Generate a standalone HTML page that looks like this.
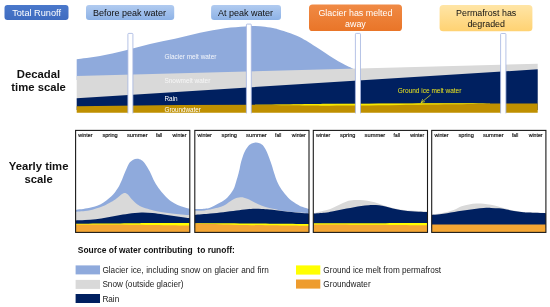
<!DOCTYPE html>
<html><head><meta charset="utf-8"><title>Runoff sources</title>
<style>
html,body{margin:0;padding:0;background:#fff;}
body{width:550px;height:307px;overflow:hidden;}
svg{display:block;font-family:"Liberation Sans",Arial,sans-serif;}
</style></head><body>
<svg width="550" height="307" viewBox="0 0 550 307">
<rect width="550" height="307" fill="#fff"/>
<path d="M76.7,59.3 C80.6,58.8 92.0,57.6 100.0,56.1 C108.0,54.6 116.7,52.5 125.0,50.5 C133.3,48.5 141.7,46.1 150.0,44.1 C158.3,42.1 166.7,40.7 175.0,38.8 C183.3,36.9 191.7,34.6 200.0,32.8 C208.3,31.0 217.5,29.3 225.0,28.2 C232.5,27.1 240.0,26.8 245.0,26.4 C250.0,26.0 251.7,26.0 255.0,26.1 C258.3,26.2 261.7,26.4 265.0,26.8 C268.3,27.2 272.5,28.1 275.0,28.6 C277.5,29.1 277.8,29.4 280.0,30.0 C282.2,30.6 285.0,31.5 288.0,32.5 C291.0,33.5 294.9,34.9 297.9,36.2 C300.9,37.6 303.0,38.8 306.0,40.6 C309.0,42.4 312.6,44.8 315.8,46.8 C319.0,48.8 322.0,50.8 325.0,52.8 C328.0,54.8 330.8,56.7 333.8,58.5 C336.8,60.3 339.7,62.0 343.0,63.8 C346.3,65.5 351.8,68.1 353.5,69.0 L353.5,80.0 L76.7,80.0 Z" fill="#8FAADC"/>
<polygon points="76.7,76 537.7,63.8 537.7,100 76.7,100" fill="#D9D9D9"/>
<polygon points="76.7,98.2 537.7,69.3 537.7,110 76.7,110" fill="#002060"/>
<polygon points="76.7,106.2 180.0,105.0 290.0,104.5 330.0,103.9 440.0,103.4 537.7,103.4 537.7,112.8 76.7,112.8" fill="#BF9000"/>
<path d="M255.0,104.6 C260.8,104.5 280.5,104.5 290.0,104.4 C299.5,104.3 305.3,104.2 312.0,104.1 C318.7,104.0 322.0,103.9 330.0,103.8 C338.0,103.7 348.3,103.7 360.0,103.7 C371.7,103.6 385.0,103.5 400.0,103.5 C415.0,103.4 435.0,103.3 450.0,103.3 C465.0,103.3 483.3,103.3 490.0,103.3 L490.0,103.4 C483.3,103.6 465.0,104.0 450.0,104.3 C435.0,104.6 415.0,104.7 400.0,104.9 C385.0,105.1 371.7,105.4 360.0,105.6 C348.3,105.7 338.0,105.7 330.0,105.7 C322.0,105.7 318.7,105.6 312.0,105.5 C305.3,105.4 299.5,105.3 290.0,105.2 C280.5,105.1 260.8,104.7 255.0,104.7 Z" fill="#F7EA00"/>
<rect x="127.9" y="33.4" width="5.0" height="80.0" fill="#fff"/>
<path d="M127.9,113.4 V34.2 q0,-0.8 0.8,-0.8 h3.4 q0.8,0 0.8,0.8 V113.4" fill="none" stroke="#A3B4E0" stroke-width="0.8"/>
<rect x="246.4" y="24.1" width="4.9" height="89.3" fill="#fff"/>
<path d="M246.4,113.4 V24.9 q0,-0.8 0.8,-0.8 h3.3 q0.8,0 0.8,0.8 V113.4" fill="none" stroke="#A3B4E0" stroke-width="0.8"/>
<rect x="355.4" y="33.4" width="5.1" height="80.0" fill="#fff"/>
<path d="M355.4,113.4 V34.2 q0,-0.8 0.8,-0.8 h3.5 q0.8,0 0.8,0.8 V113.4" fill="none" stroke="#A3B4E0" stroke-width="0.8"/>
<rect x="500.6" y="33.5" width="5.3" height="79.9" fill="#fff"/>
<path d="M500.6,113.4 V34.3 q0,-0.8 0.8,-0.8 h3.7 q0.8,0 0.8,0.8 V113.4" fill="none" stroke="#A3B4E0" stroke-width="0.8"/>
<defs>
<linearGradient id="gb" x1="0" y1="0" x2="0" y2="1"><stop offset="0" stop-color="#B1CBF0"/><stop offset="1" stop-color="#8DB2E6"/></linearGradient>
<linearGradient id="go" x1="0" y1="0" x2="0" y2="1"><stop offset="0" stop-color="#F08A45"/><stop offset="1" stop-color="#E97528"/></linearGradient>
<linearGradient id="gy" x1="0" y1="0" x2="0" y2="1"><stop offset="0" stop-color="#FFE5A6"/><stop offset="1" stop-color="#FFD272"/></linearGradient>
<linearGradient id="gt" x1="0" y1="0" x2="0" y2="1"><stop offset="0" stop-color="#4A78CB"/><stop offset="1" stop-color="#3F6CC0"/></linearGradient>
</defs>
<rect x="4.5" y="5.0" width="64.0" height="15.0" rx="3.0" fill="url(#gt)"/>
<rect x="86.0" y="5.0" width="88.2" height="15.0" rx="3.0" fill="url(#gb)"/>
<rect x="211.1" y="5.0" width="69.9" height="15.0" rx="3.0" fill="url(#gb)"/>
<rect x="309.0" y="4.5" width="93.0" height="26.5" rx="3.6" fill="url(#go)"/>
<rect x="439.6" y="5.0" width="92.8" height="26.3" rx="3.6" fill="url(#gy)"/>
<text x="36.6" y="16.1" font-size="9.20" fill="#fff" text-anchor="middle" font-weight="normal">Total Runoff</text>
<text x="129.6" y="16.0" font-size="9.00" fill="#111" text-anchor="middle" font-weight="normal">Before peak water</text>
<text x="245.4" y="16.0" font-size="9.00" fill="#111" text-anchor="middle" font-weight="normal">At peak water</text>
<text x="355.4" y="16.2" font-size="8.90" fill="#fff" text-anchor="middle" font-weight="normal">Glacier has melted</text>
<text x="355.4" y="27.2" font-size="8.90" fill="#fff" text-anchor="middle" font-weight="normal">away</text>
<text x="486.2" y="16.2" font-size="8.90" fill="#111" text-anchor="middle" font-weight="normal">Permafrost has</text>
<text x="486.2" y="27.2" font-size="8.90" fill="#111" text-anchor="middle" font-weight="normal">degraded</text>
<text x="38.5" y="78.0" font-size="11.30" fill="#111" text-anchor="middle" font-weight="bold">Decadal</text>
<text x="38.6" y="91.2" font-size="11.30" fill="#111" text-anchor="middle" font-weight="bold">time scale</text>
<text x="38.6" y="169.8" font-size="11.30" fill="#111" text-anchor="middle" font-weight="bold">Yearly time</text>
<text x="38.6" y="183.4" font-size="11.30" fill="#111" text-anchor="middle" font-weight="bold">scale</text>
<text x="164.5" y="58.9" font-size="6.45" fill="#F4F6FB" text-anchor="start" font-weight="normal">Glacier melt water</text>
<text x="164.5" y="83.4" font-size="6.45" fill="#F7F7F7" text-anchor="start" font-weight="normal">Snowmelt water</text>
<text x="164.5" y="100.5" font-size="6.40" fill="#fff" text-anchor="start" font-weight="normal">Rain</text>
<text x="164.5" y="111.5" font-size="6.30" fill="#fff" text-anchor="start" font-weight="normal">Groundwater</text>
<text x="397.8" y="92.7" font-size="6.50" fill="#ECE61C" text-anchor="start" font-weight="normal">Ground ice melt water</text>
<path d="M430.5,95 L421.6,102.3 M421.3,102.6 l3.3,-0.9 M421.3,102.6 l1.2,-3.1" stroke="#ECE61C" stroke-width="0.7" fill="none" stroke-linecap="round"/>
<g>
<path d="M75.6,209.9 C77.8,209.6 84.6,209.0 88.8,208.1 C93.0,207.2 96.9,206.3 100.7,204.3 C104.5,202.3 108.5,198.9 111.4,196.2 C114.3,193.5 116.1,190.7 117.9,187.9 C119.7,185.2 120.8,182.4 122.0,179.7 C123.2,177.0 124.1,174.3 125.3,171.6 C126.5,168.9 127.8,165.5 129.0,163.6 C130.2,161.7 131.4,160.8 132.8,160.0 C134.2,159.2 135.7,158.8 137.2,158.8 C138.7,158.8 140.3,159.4 141.6,160.2 C142.9,161.0 143.5,161.5 144.9,163.4 C146.3,165.3 148.4,168.7 149.8,171.4 C151.2,174.1 152.1,176.9 153.5,179.7 C154.9,182.4 156.7,185.3 158.5,187.9 C160.3,190.5 162.4,193.1 164.5,195.3 C166.6,197.5 168.8,199.7 171.0,201.3 C173.2,202.9 175.4,204.0 177.6,205.0 C179.8,206.0 182.1,206.7 184.1,207.3 C186.1,208.0 188.9,208.6 189.8,208.9 L189.8,222.0 L75.6,222.0 Z" fill="#8FAADC"/>
<path d="M75.6,211.7 C77.8,211.5 84.3,211.4 88.8,210.5 C93.3,209.6 99.0,207.6 102.7,206.2 C106.4,204.8 108.7,203.3 111.0,202.0 C113.3,200.7 114.9,199.6 116.5,198.4 C118.1,197.2 119.4,195.8 120.7,194.9 C122.0,194.0 123.2,193.0 124.3,192.9 C125.4,192.8 126.3,193.2 127.6,194.3 C128.8,195.4 130.4,197.8 131.8,199.3 C133.2,200.8 134.3,201.9 135.9,203.2 C137.5,204.4 139.1,205.8 141.4,206.8 C143.7,207.9 147.0,208.7 149.8,209.5 C152.6,210.3 154.3,210.8 158.0,211.5 C161.7,212.2 166.6,213.0 171.9,213.6 C177.2,214.2 186.8,215.0 189.8,215.3 L189.8,222.0 L75.6,222.0 Z" fill="#D9D9D9"/>
<path d="M75.6,220.5 C77.1,220.4 81.5,220.3 84.9,220.1 C88.3,219.9 92.2,219.6 95.8,219.2 C99.4,218.8 103.1,218.0 106.7,217.4 C110.3,216.8 114.0,216.1 117.6,215.5 C121.2,214.9 124.5,214.2 128.5,213.7 C132.5,213.2 137.4,212.7 141.4,212.6 C145.4,212.5 148.8,212.8 152.5,213.1 C156.2,213.4 159.4,214.0 163.6,214.6 C167.8,215.2 173.0,215.9 177.4,216.5 C181.8,217.1 187.7,217.9 189.8,218.2 L189.8,228.0 L75.6,228.0 Z" fill="#002060"/>
<path d="M75.6,223.7 C80.5,223.7 95.3,223.6 105.0,223.5 C114.7,223.4 126.5,223.3 134.0,223.2 C141.5,223.1 140.7,222.9 150.0,222.9 C159.3,222.9 183.2,223.1 189.8,223.1 L189.8,228.0 L75.6,228.0 Z" fill="#FFFF00"/>
<path d="M75.6,224.6 C84.7,224.6 111.0,224.5 130.0,224.7 C149.0,224.8 179.8,225.4 189.8,225.5 L189.8,232.4 L75.6,232.4 Z" fill="#F4A634"/>
<rect x="75.6" y="130.4" width="114.2" height="102.0" fill="none" stroke="#1a1a1a" stroke-width="1.1"/>
<text x="78.3" y="137.4" font-size="6.20" fill="#111" text-anchor="start" font-weight="normal" textLength="14.2" lengthAdjust="spacingAndGlyphs" stroke="#111" stroke-width="0.18">winter</text>
<text x="102.4" y="137.4" font-size="6.20" fill="#111" text-anchor="start" font-weight="normal" textLength="15.3" lengthAdjust="spacingAndGlyphs" stroke="#111" stroke-width="0.18">spring</text>
<text x="126.9" y="137.4" font-size="6.20" fill="#111" text-anchor="start" font-weight="normal" textLength="20.7" lengthAdjust="spacingAndGlyphs" stroke="#111" stroke-width="0.18">summer</text>
<text x="155.9" y="137.4" font-size="6.20" fill="#111" text-anchor="start" font-weight="normal" textLength="6.3" lengthAdjust="spacingAndGlyphs" stroke="#111" stroke-width="0.18">fall</text>
<text x="172.6" y="137.4" font-size="6.20" fill="#111" text-anchor="start" font-weight="normal" textLength="13.9" lengthAdjust="spacingAndGlyphs" stroke="#111" stroke-width="0.18">winter</text>
</g>
<g>
<path d="M194.8,209.1 C196.5,209.0 202.2,208.9 204.7,208.7 C207.2,208.5 207.5,208.8 210.0,207.8 C212.5,206.8 216.9,204.5 219.8,202.8 C222.7,201.1 224.9,199.9 227.2,197.7 C229.5,195.5 231.9,192.2 233.4,189.5 C234.9,186.8 235.3,184.1 236.2,181.4 C237.1,178.7 238.0,175.6 238.6,173.3 C239.2,171.0 239.5,169.6 239.9,167.6 C240.3,165.6 240.6,163.7 241.2,161.6 C241.8,159.5 242.6,157.0 243.3,155.0 C244.1,153.0 244.7,151.5 245.7,149.8 C246.7,148.2 248.1,146.2 249.2,145.1 C250.3,144.0 251.4,143.6 252.5,143.2 C253.6,142.8 254.8,142.5 256.0,142.5 C257.2,142.5 258.4,142.8 259.5,143.2 C260.6,143.6 261.6,144.0 262.6,145.1 C263.7,146.2 264.9,148.2 265.8,149.8 C266.7,151.5 267.3,153.0 268.1,155.0 C268.9,157.0 269.8,159.5 270.5,161.6 C271.2,163.7 271.9,165.6 272.5,167.6 C273.1,169.6 273.4,171.0 274.2,173.3 C275.0,175.6 275.9,178.7 277.1,181.4 C278.3,184.1 279.6,186.8 281.5,189.5 C283.4,192.2 286.1,195.5 288.2,197.7 C290.3,199.9 292.3,201.2 294.3,202.6 C296.3,204.0 297.6,204.8 300.0,205.9 C302.4,207.0 307.5,208.4 309.0,208.9 L309.0,222.0 L194.8,222.0 Z" fill="#8FAADC"/>
<path d="M194.8,210.8 C196.5,210.7 200.6,211.0 204.7,210.4 C208.8,209.8 215.7,208.4 219.3,207.3 C223.0,206.2 224.2,205.3 226.6,203.9 C229.0,202.5 231.7,200.2 234.0,199.1 C236.3,198.0 238.3,197.4 240.5,197.3 C242.7,197.2 244.9,197.9 247.3,198.8 C249.7,199.7 252.2,201.3 254.7,202.5 C257.1,203.7 259.6,204.9 262.0,205.8 C264.4,206.7 266.9,207.3 269.3,207.9 C271.7,208.5 274.2,209.0 276.6,209.5 C279.1,210.0 280.8,210.6 284.0,211.0 C287.2,211.4 291.8,211.9 296.0,212.2 C300.2,212.5 306.8,212.9 309.0,213.0 L309.0,222.0 L194.8,222.0 Z" fill="#D9D9D9"/>
<path d="M194.8,214.9 C197.4,214.7 205.6,214.1 210.3,213.6 C215.1,213.1 219.0,212.7 223.3,212.2 C227.7,211.7 232.5,211.0 236.4,210.5 C240.3,210.0 243.9,209.5 247.0,209.2 C250.1,208.9 252.2,208.7 254.7,208.7 C257.2,208.7 259.6,208.8 262.0,209.0 C264.4,209.2 265.6,209.2 269.3,209.6 C273.0,210.0 279.1,210.8 284.0,211.3 C288.9,211.8 294.4,212.4 298.6,212.8 C302.8,213.2 307.3,213.4 309.0,213.5 L309.0,228.0 L194.8,228.0 Z" fill="#002060"/>
<path d="M194.8,223.5 C202.3,223.5 221.0,223.3 240.0,223.4 C259.0,223.5 297.5,223.9 309.0,224.0 L309.0,228.0 L194.8,228.0 Z" fill="#FFFF00"/>
<path d="M194.8,223.6 C196.5,223.6 197.5,223.6 205.0,223.8 C212.5,224.0 222.7,224.6 240.0,224.9 C257.3,225.2 297.5,225.7 309.0,225.9 L309.0,232.4 L194.8,232.4 Z" fill="#F4A634"/>
<rect x="194.8" y="130.4" width="114.2" height="102.0" fill="none" stroke="#1a1a1a" stroke-width="1.1"/>
<text x="197.5" y="137.4" font-size="6.20" fill="#111" text-anchor="start" font-weight="normal" textLength="14.2" lengthAdjust="spacingAndGlyphs" stroke="#111" stroke-width="0.18">winter</text>
<text x="221.6" y="137.4" font-size="6.20" fill="#111" text-anchor="start" font-weight="normal" textLength="15.3" lengthAdjust="spacingAndGlyphs" stroke="#111" stroke-width="0.18">spring</text>
<text x="246.1" y="137.4" font-size="6.20" fill="#111" text-anchor="start" font-weight="normal" textLength="20.7" lengthAdjust="spacingAndGlyphs" stroke="#111" stroke-width="0.18">summer</text>
<text x="275.1" y="137.4" font-size="6.20" fill="#111" text-anchor="start" font-weight="normal" textLength="6.3" lengthAdjust="spacingAndGlyphs" stroke="#111" stroke-width="0.18">fall</text>
<text x="291.8" y="137.4" font-size="6.20" fill="#111" text-anchor="start" font-weight="normal" textLength="13.9" lengthAdjust="spacingAndGlyphs" stroke="#111" stroke-width="0.18">winter</text>
</g>
<g>
<path d="M313.3,213.2 C315.2,212.8 321.6,211.3 324.7,210.5 C327.8,209.7 329.6,209.3 332.0,208.3 C334.4,207.3 336.9,205.8 339.3,204.7 C341.7,203.5 344.2,202.2 346.6,201.4 C349.1,200.6 351.8,200.2 354.0,200.0 C356.2,199.8 357.8,199.9 360.0,200.0 C362.2,200.1 364.9,200.3 367.3,200.7 C369.8,201.1 372.2,201.5 374.7,202.2 C377.1,202.9 379.6,203.9 382.0,204.7 C384.4,205.5 386.9,206.2 389.3,206.9 C391.7,207.6 394.2,208.3 396.6,208.8 C399.1,209.3 401.6,209.6 404.0,209.9 C406.4,210.2 408.9,210.4 411.3,210.6 C413.7,210.8 415.9,210.9 418.6,211.1 C421.3,211.2 426.0,211.4 427.5,211.5 L427.5,222.0 L313.3,222.0 Z" fill="#D9D9D9"/>
<path d="M313.3,213.5 C315.2,213.4 321.6,213.0 324.7,212.7 C327.8,212.4 329.6,211.9 332.0,211.5 C334.4,211.1 336.9,210.5 339.3,210.0 C341.7,209.5 344.2,209.1 346.6,208.6 C349.1,208.1 351.6,207.6 354.0,207.2 C356.4,206.8 358.9,206.3 361.3,206.0 C363.7,205.7 366.2,205.3 368.6,205.2 C371.0,205.0 373.7,205.0 375.9,205.1 C378.1,205.2 379.8,205.4 382.0,205.8 C384.2,206.2 386.9,206.9 389.3,207.5 C391.7,208.1 394.2,208.8 396.6,209.3 C399.1,209.8 401.6,210.2 404.0,210.5 C406.4,210.8 408.9,211.0 411.3,211.2 C413.7,211.4 415.9,211.6 418.6,211.7 C421.3,211.8 426.0,211.9 427.5,212.0 L427.5,228.0 L313.3,228.0 Z" fill="#002060"/>
<path d="M313.3,223.3 C322.8,223.3 351.0,223.2 370.0,223.2 C389.0,223.1 417.9,223.0 427.5,223.0 L427.5,228.0 L313.3,228.0 Z" fill="#FFFF00"/>
<path d="M313.3,224.4 C322.8,224.4 351.0,224.5 370.0,224.7 C389.0,224.8 417.9,225.2 427.5,225.3 L427.5,232.4 L313.3,232.4 Z" fill="#F4A634"/>
<rect x="313.3" y="130.4" width="114.2" height="102.0" fill="none" stroke="#1a1a1a" stroke-width="1.1"/>
<text x="316.0" y="137.4" font-size="6.20" fill="#111" text-anchor="start" font-weight="normal" textLength="14.2" lengthAdjust="spacingAndGlyphs" stroke="#111" stroke-width="0.18">winter</text>
<text x="340.1" y="137.4" font-size="6.20" fill="#111" text-anchor="start" font-weight="normal" textLength="15.3" lengthAdjust="spacingAndGlyphs" stroke="#111" stroke-width="0.18">spring</text>
<text x="364.6" y="137.4" font-size="6.20" fill="#111" text-anchor="start" font-weight="normal" textLength="20.7" lengthAdjust="spacingAndGlyphs" stroke="#111" stroke-width="0.18">summer</text>
<text x="393.6" y="137.4" font-size="6.20" fill="#111" text-anchor="start" font-weight="normal" textLength="6.3" lengthAdjust="spacingAndGlyphs" stroke="#111" stroke-width="0.18">fall</text>
<text x="410.3" y="137.4" font-size="6.20" fill="#111" text-anchor="start" font-weight="normal" textLength="13.9" lengthAdjust="spacingAndGlyphs" stroke="#111" stroke-width="0.18">winter</text>
</g>
<g>
<path d="M431.7,214.3 C433.0,214.2 437.1,213.8 439.7,213.4 C442.2,213.0 444.6,212.6 447.0,212.0 C449.4,211.4 451.9,210.8 454.3,209.8 C456.7,208.9 459.2,207.2 461.6,206.3 C464.1,205.4 466.6,204.9 469.0,204.4 C471.4,203.9 473.9,203.6 476.3,203.5 C478.7,203.4 481.2,203.5 483.6,203.7 C486.0,203.9 488.4,204.3 490.9,204.8 C493.3,205.3 495.7,205.8 498.3,206.5 C500.9,207.2 504.0,208.1 506.6,208.8 C509.2,209.5 511.6,210.0 514.0,210.5 C516.5,211.0 518.9,211.4 521.3,211.7 C523.7,212.0 524.5,212.1 528.6,212.3 C532.7,212.5 543.0,212.9 545.9,213.0 L545.9,222.0 L431.7,222.0 Z" fill="#D9D9D9"/>
<path d="M431.7,214.9 C433.0,214.8 437.1,214.5 439.7,214.2 C442.2,213.9 444.6,213.6 447.0,213.2 C449.4,212.8 451.9,212.4 454.3,212.0 C456.7,211.6 459.2,211.2 461.6,210.8 C464.1,210.4 466.6,210.0 469.0,209.7 C471.4,209.3 473.9,209.0 476.3,208.7 C478.7,208.4 481.2,208.1 483.6,208.0 C486.1,207.9 488.4,207.8 491.0,207.9 C493.6,208.0 496.7,208.0 499.3,208.3 C501.9,208.6 504.2,209.1 506.6,209.5 C509.1,209.9 511.6,210.6 514.0,211.0 C516.5,211.4 518.9,211.7 521.3,212.0 C523.7,212.3 524.5,212.4 528.6,212.6 C532.7,212.8 543.0,213.1 545.9,213.2 L545.9,228.0 L431.7,228.0 Z" fill="#002060"/>
<path d="M431.7,224.5 C450.7,224.5 526.9,224.6 545.9,224.6 L545.9,232.4 L431.7,232.4 Z" fill="#F4A634"/>
<rect x="431.7" y="130.4" width="114.2" height="102.0" fill="none" stroke="#1a1a1a" stroke-width="1.1"/>
<text x="434.4" y="137.4" font-size="6.20" fill="#111" text-anchor="start" font-weight="normal" textLength="14.2" lengthAdjust="spacingAndGlyphs" stroke="#111" stroke-width="0.18">winter</text>
<text x="458.5" y="137.4" font-size="6.20" fill="#111" text-anchor="start" font-weight="normal" textLength="15.3" lengthAdjust="spacingAndGlyphs" stroke="#111" stroke-width="0.18">spring</text>
<text x="483.0" y="137.4" font-size="6.20" fill="#111" text-anchor="start" font-weight="normal" textLength="20.7" lengthAdjust="spacingAndGlyphs" stroke="#111" stroke-width="0.18">summer</text>
<text x="512.0" y="137.4" font-size="6.20" fill="#111" text-anchor="start" font-weight="normal" textLength="6.3" lengthAdjust="spacingAndGlyphs" stroke="#111" stroke-width="0.18">fall</text>
<text x="528.7" y="137.4" font-size="6.20" fill="#111" text-anchor="start" font-weight="normal" textLength="13.9" lengthAdjust="spacingAndGlyphs" stroke="#111" stroke-width="0.18">winter</text>
</g>
<text x="77.8" y="253.1" font-size="8.45" fill="#111" text-anchor="start" font-weight="bold" xml:space="preserve" style="white-space:pre">Source of water contributing  to runoff:</text>
<rect x="75.6" y="265.4" width="24.4" height="9.0" fill="#8FAADC"/>
<rect x="75.6" y="279.9" width="24.4" height="9.0" fill="#D9D9D9"/>
<rect x="75.6" y="294.0" width="24.4" height="9.0" fill="#002060"/>
<rect x="296" y="265.4" width="24.3" height="9.2" fill="#FFFF00"/>
<rect x="296" y="279.5" width="24.3" height="9.1" fill="#EE9C2E"/>
<text x="102.4" y="272.6" font-size="8.20" fill="#1a1a1a" text-anchor="start" font-weight="normal" word-spacing="0.3">Glacier ice, including snow on glacier and firn</text>
<text x="102.4" y="287.3" font-size="8.20" fill="#1a1a1a" text-anchor="start" font-weight="normal">Snow (outside glacier)</text>
<text x="102.4" y="301.6" font-size="8.20" fill="#1a1a1a" text-anchor="start" font-weight="normal">Rain</text>
<text x="323.3" y="272.6" font-size="8.20" fill="#1a1a1a" text-anchor="start" font-weight="normal">Ground ice melt from permafrost</text>
<text x="323.3" y="287.2" font-size="8.20" fill="#1a1a1a" text-anchor="start" font-weight="normal">Groundwater</text>
</svg>
</body></html>
